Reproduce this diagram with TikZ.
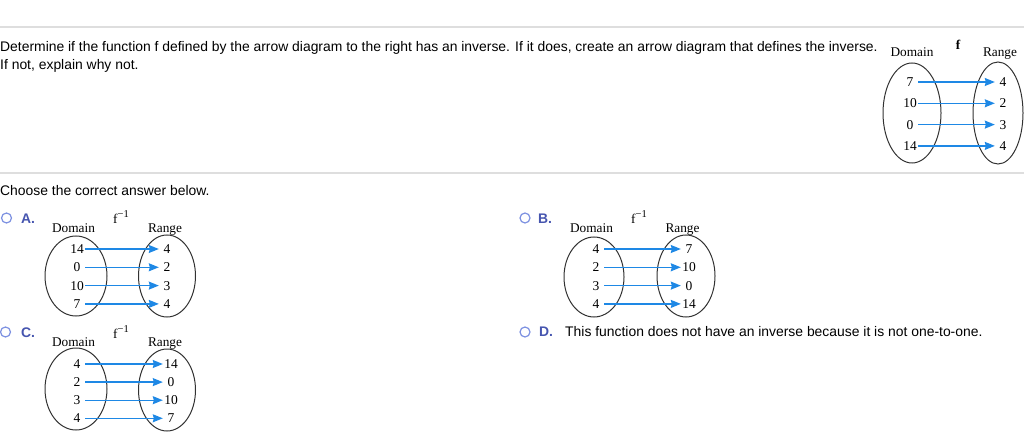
\documentclass[tikz,border=0pt]{standalone}
\usepackage{fontspec}
\setmainfont{Liberation Serif}
\setsansfont{Liberation Sans}
\usetikzlibrary{shapes.geometric,arrows.meta,positioning}
\definecolor{arrowblue}{RGB}{30,136,229}
\definecolor{setgray}{RGB}{50,50,50}
\definecolor{rulegray}{RGB}{222,222,222}
\definecolor{choiceblue}{RGB}{125,145,225}
\definecolor{letterblue}{RGB}{70,85,175}
\newcommand{\finv}{f\textsuperscript{\fontsize{10.5}{11}\selectfont −1}}

\begin{document}
\begin{tikzpicture}[x=1pt,y=-1pt,
    set node/.style={ellipse,draw=setgray,line width=1pt,inner sep=0pt},
    num node/.style={font=\fontsize{13.5}{15}\selectfont,minimum width=16pt,inner sep=0pt},
    head node/.style={font=\fontsize{13.3}{15}\selectfont,anchor=base,inner sep=0pt},
    text node/.style={font=\sffamily\fontsize{13.9}{16}\selectfont,anchor=base west,inner sep=0pt},
    choice node/.style={circle,draw=choiceblue,line width=1.2pt,minimum size=10pt,inner sep=0pt},
    letter node/.style={font=\sffamily\bfseries\fontsize{13.9}{16}\selectfont,text=letterblue,anchor=base west,inner sep=0pt},
    arrow line/.style={-{Stealth[length=10pt,width=8pt,inset=1pt]},draw=arrowblue,line width=1.3pt}]
    \useasboundingbox (0,0) rectangle (1024,446);
    \draw[rulegray,line width=2pt] (0,27) -- (1024,27);
    \draw[rulegray,line width=2pt] (0,173) -- (1024,173);

    % question
    \node[text node] (q1) at (0,52) {Determine if the function f defined by the arrow diagram to the right has an inverse. If it does, create an arrow diagram that defines the inverse.};
    \node[text node] (q2) at (0,70) {If not, explain why not.};
    \node[text node] (q3) at (0,195.5) {Choose the correct answer below.};

    % f
    \node[set node,minimum width=58pt,minimum height=100pt] (fdom) at (912,113) {};
    \node[set node,minimum width=50pt,minimum height=102pt] (fran) at (998,113) {};
    \node[head node] (fdomlab) at (912,56.5) {Domain};
    \node[head node] (franlab) at (1000,56.5) {Range};
    \node[head node,font=\bfseries\fontsize{13.3}{15}\selectfont] (fname) at (958,50) {f};
    \foreach \a/\b [count=\i] in {7/4,10/2,0/3,14/4} {
        \node[num node] (fl\i) at (910,{82+21.3*(\i-1)}) {\a};
        \node[num node] (fr\i) at (1003,{82+21.3*(\i-1)}) {\b};
        \draw[arrow line] (fl\i) -- (fr\i);
    }

    % choice A
    \node[choice node] (ca) at (6.5,218) {};
    \node[letter node] (la) at (21,223) {A.};
    \node[set node,minimum width=62pt,minimum height=80pt] (adom) at (76,276) {};
    \node[set node,minimum width=57pt,minimum height=82pt] (aran) at (167,276) {};
    \node[head node] (adomlab) at (73.5,233) {Domain};
    \node[head node] (aranlab) at (165,233) {Range};
    \node[head node,anchor=base west] (aname) at (113,223) {\finv};
    \foreach \a/\b [count=\i] in {14/4,0/2,10/3,7/4} {
        \node[num node] (al\i) at (77,{249+18.3*(\i-1)}) {\a};
        \node[num node] (ar\i) at (167,{249+18.3*(\i-1)}) {\b};
        \draw[arrow line] (al\i) -- (ar\i);
    }

    % choice B
    \node[choice node] (cb) at (525,218) {};
    \node[letter node] (lb) at (538,223) {B.};
    \node[set node,minimum width=60pt,minimum height=80pt] (bdom) at (594,277) {};
    \node[set node,minimum width=58pt,minimum height=82pt] (bran) at (686,276) {};
    \node[head node] (bdomlab) at (591.5,233) {Domain};
    \node[head node] (branlab) at (682.5,233) {Range};
    \node[head node,anchor=base west] (bname) at (631,223) {\finv};
    \foreach \a/\b [count=\i] in {4/7,2/10,3/0,4/14} {
        \node[num node] (bl\i) at (596,{249+18.3*(\i-1)}) {\a};
        \node[num node] (br\i) at (689,{249+18.3*(\i-1)}) {\b};
        \draw[arrow line] (bl\i) -- (br\i);
    }

    % choice C
    \node[choice node] (cc) at (5.5,332) {};
    \node[letter node] (lc) at (21,337) {C.};
    \node[set node,minimum width=62pt,minimum height=82pt] (cdom) at (76,389) {};
    \node[set node,minimum width=57pt,minimum height=82pt] (cran) at (167,390) {};
    \node[head node] (cdomlab) at (73.5,346.5) {Domain};
    \node[head node] (cranlab) at (165,346.5) {Range};
    \node[head node,anchor=base west] (cname) at (113,338) {\finv};
    \foreach \a/\b [count=\i] in {4/14,2/0,3/10,4/7} {
        \node[num node] (cl\i) at (77,{364+18.1*(\i-1)}) {\a};
        \node[num node] (cr\i) at (171,{364+18.1*(\i-1)}) {\b};
        \draw[arrow line] (cl\i) -- (cr\i);
    }

    % choice D
    \node[choice node] (cd) at (525,332) {};
    \node[letter node] (ld) at (539,336.5) {D.};
    \node[text node] (dtext) at (565,336.5) {This function does not have an inverse because it is not one-to-one.};
\end{tikzpicture}
\end{document}
